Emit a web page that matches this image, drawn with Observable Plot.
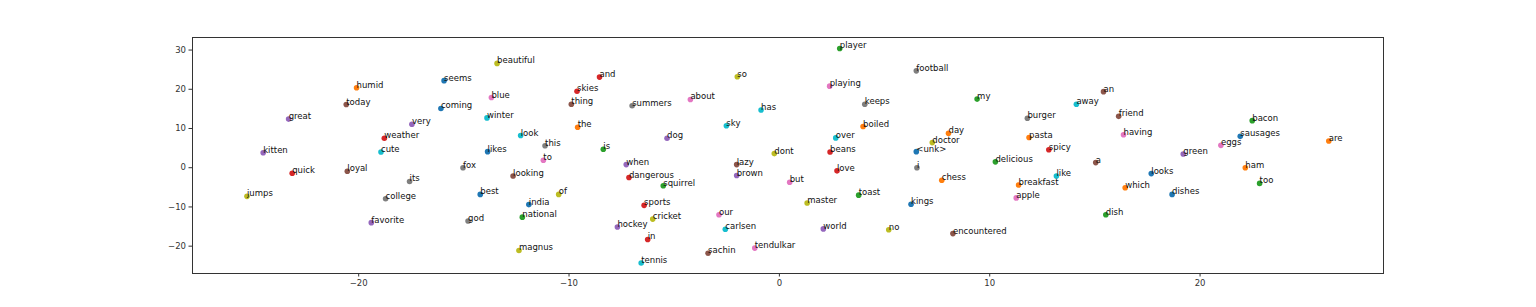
<!DOCTYPE html>
<html>
<head>
<meta charset="utf-8">
<script src="https://cdn.jsdelivr.net/npm/d3@7"></script>
<script src="https://cdn.jsdelivr.net/npm/@observablehq/plot@0.6"></script>
<style>
  html, body { margin: 0; padding: 0; background: #fff; }
  #chart svg { display: block; }
</style>
</head>
<body>
<div id="chart"></div>
<script>
// Words in plotting order; matplotlib's tab10 cycle gives word i the colour i % 10
const words = [
  "seems","humid","is","weather","great","today","blue","fox","jumps","cute",
  "coming","the","squirrel","quick","very","loyal","about","its","beautiful","winter",
  "likes","boiled","national","and","kitten","thing","to","college","so","has",
  "best","day","player","skies","favorite","lazy","our","god","of","sky",
  "india","pasta","my","dangerous","dog","looking","tendulkar","summers","cricket","look",
  "<unk>","chess","delicious","sports","when","sachin","playing","this","magnus","carlsen",
  "kings","breakfast","toast","in","brown","encountered","but","football","dont","tennis",
  "sausages","are","bacon","beans","hockey","an","apple","keeps","master","over",
  "looks","ham","too","spicy","world","friend","having","i","no","away",
  "dishes","which","dish","love","green","a","eggs","burger","doctor","like"
];
const xs = [
  -15.94,-20.10,-8.37,-18.78,-23.33,-20.59,-13.69,-15.04,-25.31,-18.94,
  -16.09,-9.59,-5.52,-23.16,-17.47,-20.54,-4.23,-17.58,-13.42,-13.90,
  -13.87,3.98,-12.22,-8.55,-24.54,-9.89,-11.22,-18.72,-2.00,-0.87,
  -14.22,8.04,2.87,-9.62,-19.40,-2.03,-2.87,-14.80,-10.49,-2.52,
  -11.91,11.87,9.40,-7.15,-5.34,-12.66,-1.17,-7.00,-6.02,-12.30,
  6.51,7.72,10.27,-6.43,-7.28,-3.39,2.39,-11.14,-12.38,-2.57,
  6.26,11.37,3.77,-6.26,-2.03,8.25,0.49,6.51,-0.24,-6.57,
  21.91,26.12,22.48,2.41,-7.70,15.41,11.26,4.06,1.32,2.68,
  17.68,22.15,22.83,12.81,2.09,16.13,16.36,6.54,5.20,14.12,
  18.67,16.44,15.52,2.74,19.20,15.04,20.99,11.79,7.27,13.17
];
const ys = [
  22.2,20.4,4.7,7.5,12.4,16.1,17.9,0.0,-7.3,4.0,
  15.1,10.3,-4.6,-1.4,11.1,-0.9,17.4,-3.5,26.6,12.7,
  4.1,10.5,-12.6,23.1,3.8,16.2,1.9,-7.9,23.2,14.7,
  -6.8,8.8,30.4,19.5,-14.0,0.8,-12.0,-13.6,-6.8,10.7,
  -9.4,7.7,17.5,-2.5,7.5,-2.1,-20.5,15.8,-13.1,8.2,
  4.1,-3.2,1.5,-9.6,0.8,-21.8,20.8,5.6,-21.1,-15.7,
  -9.3,-4.4,-7.0,-18.3,-2.0,-16.8,-3.7,24.7,3.6,-24.3,
  8.0,6.8,12.0,4.0,-15.1,19.4,-7.7,16.2,-9.0,7.6,
  -1.5,0.0,-4.0,4.6,-15.6,13.1,8.4,0.0,-15.8,16.2,
  -6.8,-5.1,-12.0,-0.8,3.5,1.3,5.7,12.6,6.4,-2.1
];
const xTicks = [-20, -10, 0, 10, 20];
const yTicks = [-20, -10, 0, 10, 20, 30];
const tab10 = ["#1f77b4","#ff7f0e","#2ca02c","#d62728","#9467bd","#8c564b","#e377c2","#7f7f7f","#bcbd22","#17becf"];

const data = words.map((w, i) => ({word: w, x: xs[i], y: ys[i], c: i % 10}));

const chart = Plot.plot({
  width: 1536,
  height: 307,
  marginLeft: 192,
  marginRight: 153,
  marginTop: 37,
  marginBottom: 34,
  style: {fontFamily: "'DejaVu Sans', sans-serif", fontSize: "8.5px", color: "#333", background: "#fff"},
  x: {domain: [-27.9, 28.72], ticks: xTicks, tickFormat: d3.format("d"), tickSize: 3.5, tickPadding: 3, label: null},
  y: {domain: [-26.97, 33.2], ticks: yTicks, tickFormat: d3.format("d"), tickSize: 3.5, tickPadding: 3, label: null},
  color: {type: "ordinal", domain: d3.range(10), range: tab10},
  marks: [
    Plot.frame({stroke: "#333", strokeWidth: 1}),
    Plot.dot(data, {x: "x", y: "y", r: 2.8, fill: "c", stroke: null}),
    Plot.text(data, {x: "x", y: "y", text: "word", textAnchor: "start", lineAnchor: "bottom", fill: "#111", fontSize: 8.5})
  ]
});
document.getElementById("chart").appendChild(chart);
</script>
</body>
</html>
